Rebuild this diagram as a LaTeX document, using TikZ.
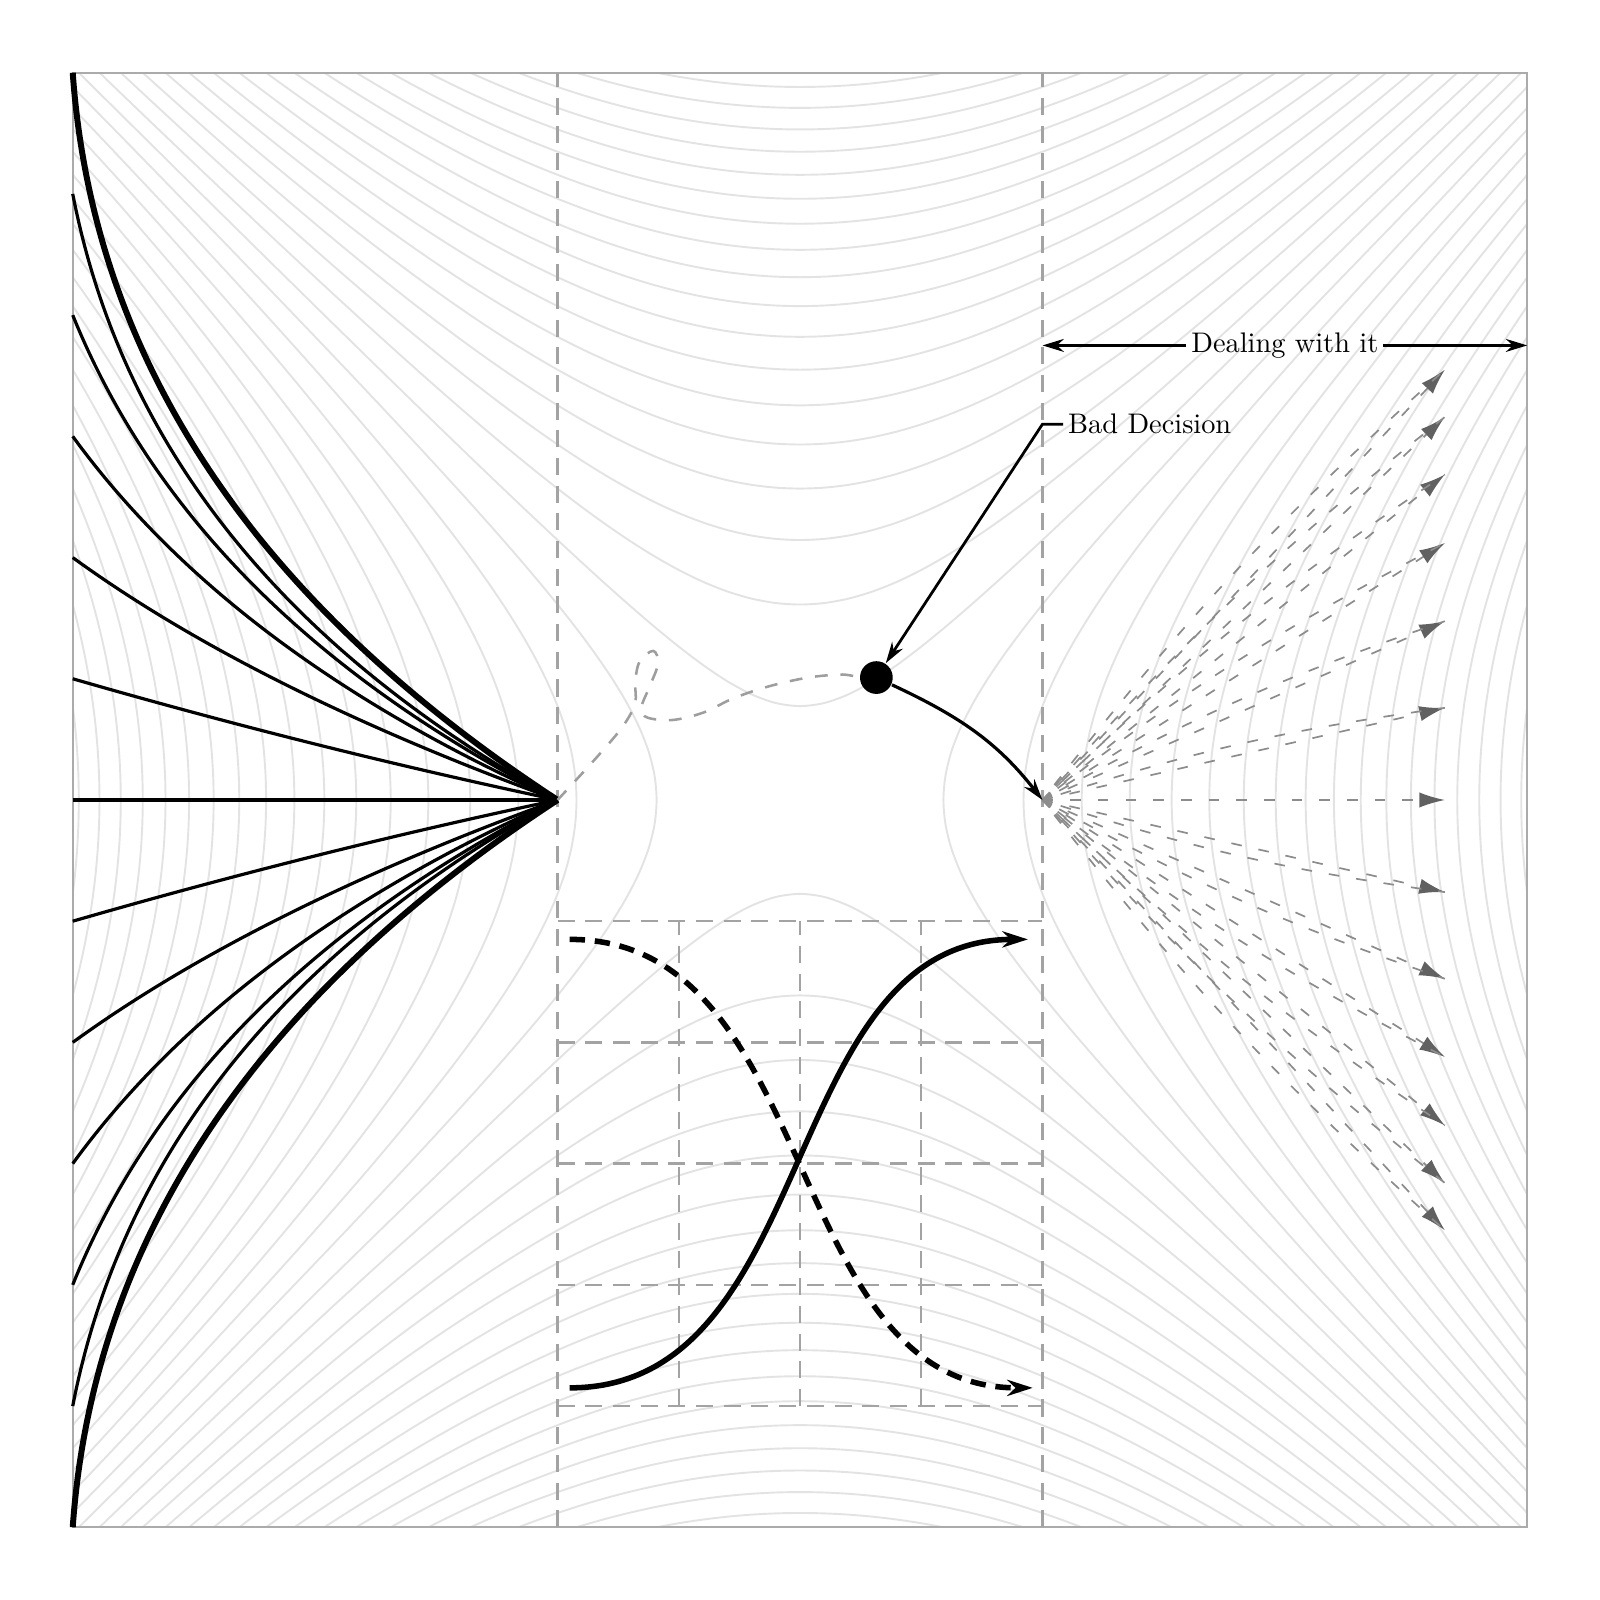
\documentclass[tikz,border=0pt]{standalone}
\usetikzlibrary{arrows.meta,calc}
\newcommand{\smalltxt}[1]{\scalebox{0.665}{\fontsize{10}{12}\selectfont #1}}
\begin{document}
\begin{tikzpicture}[
  bgline/.style={black!11, line width=0.45pt},
  framec/.style={black!33, line width=0.5pt},
  guide/.style={black!36, line width=0.55pt, dash pattern=on 4pt off 2.5pt},
  rayline/.style={black!45, line width=0.4pt, dash pattern=on 2.5pt off 4pt},
  raytip/.style={-{Latex[length=6pt,width=3.6pt,fill=black!62,color=black!62]}},
  curly/.style={black!38, line width=0.6pt, dash pattern=on 3pt off 3pt},
  boldcurve/.style={black, line width=1.3pt},
  thinarrow/.style={black, line width=0.75pt, -{Stealth[length=5pt,width=3pt]}},
  boldtip/.style={-{Stealth[length=6pt,width=3.8pt]}},
  lbl/.style={inner sep=1pt},
]
\useasboundingbox (-0.6,-0.6) rectangle (12.6,12.6);

% background hyperbolas
\begin{scope}
\clip (0,0) rectangle (12,12);
\foreach \k in {0,...,17}{
  \pgfmathsetmacro\a{0.6+2*\k}
  \draw[bgline] plot[domain=0:12, samples=61, smooth] (\x,{6+sqrt(\a+(\x-6)^2)});
  \draw[bgline] plot[domain=0:12, samples=61, smooth] (\x,{6-sqrt(\a+(\x-6)^2)});
  \pgfmathsetmacro\b{1.4+2*\k}
  \draw[bgline] plot[domain=0:12, samples=61, smooth] ({6+sqrt(\b+(\x-6)^2)},\x);
  \draw[bgline] plot[domain=0:12, samples=61, smooth] ({6-sqrt(\b+(\x-6)^2)},\x);
}
\end{scope}

% frame and guides
\draw[framec] (0,0) rectangle (12,12);
\draw[guide] (4,0) -- (4,12);
\draw[guide] (8,0) -- (8,12);
\foreach \y in {1,...,5} \draw[guide] (4,\y) -- (8,\y);
\foreach \x in {5,6,7} \draw[guide] (\x,1) -- (\x,5);

% left fan
\coordinate (F) at (4,6);
\coordinate (L6) at (0,6);
\draw[black, line width=0.75pt] (L6) -- (F);
\foreach \s/\cx/\cy in {1/2.01/0.42, 2/1.5/0.91, 3/1.31/1.198, 4/0.998/1.53, 5/0.606/1.88, 6/0.25/2.45}{
  \pgfmathsetmacro\up{6+\s}
  \pgfmathsetmacro\dn{6-\s}
  \pgfmathsetmacro\cu{6+\cy}
  \pgfmathsetmacro\cd{6-\cy}
  \pgfmathsetmacro\lw{\s==6 ? 1.4 : 0.75}
  \coordinate (Lu) at (0,\up);
  \coordinate (Ld) at (0,\dn);
  \draw[black, line width=\lw pt] (Lu) .. controls ($(Lu)!0.667!(\cx,\cu)$) and ($(F)!0.667!(\cx,\cu)$) .. (F);
  \draw[black, line width=\lw pt] (Ld) .. controls ($(Ld)!0.667!(\cx,\cd)$) and ($(F)!0.667!(\cx,\cd)$) .. (F);
}

% right fan of gray dashed arrows
\coordinate (R) at (8,6);
\coordinate (T0) at (11.32,6);
\draw[rayline, raytip] (R) -- (T0);
\foreach \dy in {0.76,1.475,2.12,2.685,3.16,3.55}{
  \pgfmathsetmacro\tu{6+\dy}
  \pgfmathsetmacro\td{6-\dy}
  \coordinate (Tu) at (11.32,\tu);
  \coordinate (Td) at (11.32,\td);
  \draw[rayline, raytip] (R) -- (Tu);
  \draw[rayline, dash phase=2pt] (R) to[bend left=5] (Tu);
  \draw[rayline, raytip] (R) -- (Td);
  \draw[rayline, dash phase=2pt] (R) to[bend right=5] (Td);
}

% bad decision dot and curly path
\node[circle, fill=black, inner sep=0pt, minimum size=2.7mm] (dot) at (6.63,7.01) {};
\draw[curly] plot[smooth, tension=0.55] coordinates {(F) (4.33,6.36) (4.54,6.61) (4.64,6.8) (4.64,6.98) (4.68,7.15) (4.79,7.23) (4.83,7.13) (4.77,6.96) (4.69,6.76) (4.74,6.68) (4.95,6.66) (5.2,6.72) (5.43,6.83) (5.65,6.91) (5.87,6.97) (6.1,7.015) (6.35,7.035) (dot.west)};
\draw[thinarrow] (dot) to[out=-25, in=128] (R);

\node[lbl, anchor=west] (bad) at (8.17,9.1) {\smalltxt{Bad Decision}};
\coordinate (badk) at (8,9.1);
\draw[thinarrow, line width=0.65pt] (bad.west) -- (badk) -- (dot);

\node[lbl] (deal) at (10,9.75) {\smalltxt{Dealing with it}};
\coordinate (dl) at (8,9.75);
\coordinate (dr) at (12,9.75);
\draw[thinarrow, line width=0.85pt] (deal) -- (dl);
\draw[thinarrow, line width=0.85pt] (deal) -- (dr);

% crossing curves in the grid
\coordinate (sa) at (4.1,1.15);
\coordinate (sb) at (7.88,4.85);
\coordinate (da) at (4.1,4.85);
\coordinate (db) at (7.92,1.15);
\draw[boldcurve, boldtip] (sa) to[out=0,in=180] (sb);
\draw[boldcurve, boldtip, dash pattern=on 3.6pt off 2.3pt] (da) to[out=0,in=180] (db);
\end{tikzpicture}
\end{document}
